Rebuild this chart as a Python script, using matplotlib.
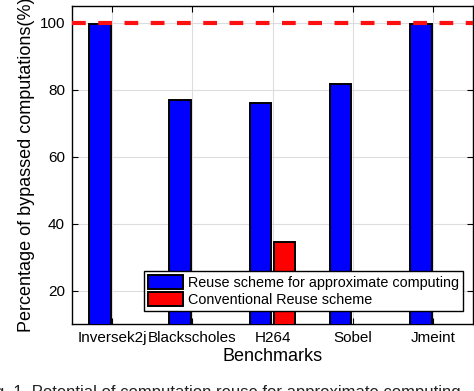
import numpy as np
import matplotlib
matplotlib.use("Agg")
import matplotlib.pyplot as plt

plt.rcParams['font.family'] = ['Liberation Sans', 'DejaVu Sans']

benchmarks = ["Inversek2j", "Blackscholes", "H264", "Sobel", "Jmeint"]
approx_reuse = [99.5, 76.8, 76.1, 81.8, 99.5]
conv_reuse = [0.3, 0.3, 34.4, 0.3, 0.3]
ideal = 100

fig = plt.figure(figsize=(4.74, 3.91), dpi=100)
ax = fig.add_axes([72 / 474, 1 - 324 / 391, 401 / 474, 318 / 391])

x = np.arange(1, len(benchmarks) + 1)
w = 0.27
ax.bar(x - 0.15, approx_reuse, w, color='#0000ff', edgecolor='black', linewidth=1.4,
       label='Reuse scheme for approximate computing', zorder=3)
ax.bar(x + 0.15, conv_reuse, w, color='#ff0000', edgecolor='black', linewidth=1.4,
       label='Conventional Reuse scheme', zorder=3)
ax.axhline(ideal, color='#ff1010', linestyle=(0, (3.3, 3.0)), linewidth=3, zorder=4)

ax.set_xlim(0.5, 5.5)
ax.set_ylim(10, 105)
ax.set_xticks(x)
ax.set_xticklabels(benchmarks)
ax.set_yticks([20, 40, 60, 80, 100])
ax.tick_params(direction='in', top=True, right=True, labelsize=11, length=4, pad=5)
ax.grid(True, color='#dddddd', linewidth=0.8, zorder=0)
for s in ax.spines.values():
    s.set_linewidth(1.0)

ax.set_xlabel('Benchmarks', fontsize=13, labelpad=2)
ax.set_ylabel('Percentage of bypassed computations(%)', fontsize=13, labelpad=3)

leg = ax.legend(loc='lower right', bbox_to_anchor=(0.975, 0.041), borderaxespad=0,
                fontsize=10.4, fancybox=False, edgecolor='black', framealpha=1,
                handlelength=2.4, handleheight=1.1, handletextpad=0.35,
                labelspacing=0.12, borderpad=0.3)
leg.get_frame().set_linewidth(1.0)

# caption, partly cropped at the bottom as in the source image
fig.text(-0.04, -0.005, 'Fig. 1. Potential of computation reuse for approximate computing.',
         fontsize=12, ha='left', va='center', color='#222222')

fig.savefig('out.png', dpi=100)
